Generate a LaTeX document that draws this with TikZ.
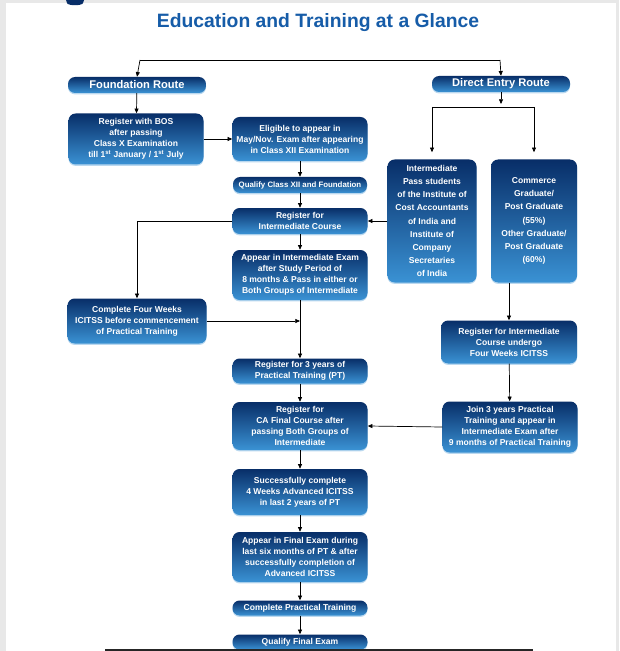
\documentclass[tikz,border=0pt]{standalone}
\usepackage{fontspec}
\setmainfont{Liberation Sans}
\usetikzlibrary{arrows.meta,shadows}
\definecolor{headblue}{RGB}{22,92,168}
\definecolor{boxtop}{RGB}{8,46,104}
\definecolor{boxmid}{RGB}{16,74,146}
\definecolor{boxbot}{RGB}{58,146,212}
\definecolor{edgegray}{RGB}{232,232,232}

\begin{document}
\begin{tikzpicture}[x=0.03cm,y=-0.03cm,
        stage/.style 2 args={
        rectangle, rounded corners=6pt,
        top color=boxtop, middle color=boxmid, bottom color=boxbot,
        text=white, align=center, inner sep=0pt,
        font=\fontsize{7.3}{9.4}\selectfont\bfseries,
        minimum width=#1*0.03cm, minimum height=#2*0.03cm,
        drop shadow={shadow xshift=0pt, shadow yshift=-1.2pt, opacity=0.35, fill=boxbot}},
        tall/.style={font=\fontsize{7.3}{11.2}\selectfont\bfseries},
        route/.style={stage={138}{16}, font=\fontsize{9.5}{10}\selectfont\bfseries},
        link/.style={-{Triangle[length=4pt,width=3.4pt]}, line width=0.6pt},
        ]

        \useasboundingbox (0,0) rectangle (619,651);
        \fill[white] (0,0) rectangle (619,651);
        \fill[edgegray] (0,0) rectangle (6,651);
        \fill[edgegray] (616,0) rectangle (619,651);
        \fill[edgegray] (0,0) rectangle (619,3);
        \fill[boxtop] (66,0) -- (84,0) -- (83,3) .. controls (82,6) and (68,6) .. (67,3) -- cycle;

        \node (title) [font=\fontsize{16.5}{18}\selectfont\bfseries, text=headblue] at (318,23) {Education and Training at a Glance};

        % two routes
        \node (found) [route] at (137,85) {Foundation Route};
        \node (direct) [route] at (501,84) {Direct Entry Route};
        \coordinate (topl) at (140,60);
        \coordinate (topr) at (500,60);
        \draw (topl) -- (topr);
        \draw [link] (topl) -- (found.north);
        \draw [link] (topr) -- (direct.north);

        % foundation side
        \node (bos) [stage={135}{51}] at (136,139) {Register with BOS\\after passing\\Class X Examination\\till 1\textsuperscript{st} January / 1\textsuperscript{st} July};
        \node (elig) [stage={135}{44}] at (300,139) {Eligible to appear in\\May/Nov. Exam after appearing\\in Class XII Examination};
        \node (qualxii) [stage={134}{16}, font=\fontsize{6.7}{8}\selectfont\bfseries] at (300,185) {Qualify Class XII and Foundation};
        \node (reginter) [stage={135}{26}] at (300,221) {Register for\\Intermediate Course};
        \node (appear) [stage={135}{50}] at (300,275) {Appear in Intermediate Exam\\after Study Period of\\8 months \& Pass in either or\\Both Groups of Intermediate};
        \node (four) [stage={139}{45}] at (137,321) {Complete Four Weeks\\ICITSS before commencement\\of Practical Training};
        \node (regpt) [stage={135}{25}] at (300,371) {Register for 3 years of\\Practical Training (PT)};
        \node (cafinal) [stage={135}{48}] at (300,426) {Register for\\CA Final Course after\\passing Both Groups of\\Intermediate};
        \node (advicitss) [stage={135}{46}] at (300,492) {Successfully complete\\4 Weeks Advanced ICITSS\\in last 2 years of PT};
        \node (final) [stage={135}{50}] at (300,557) {Appear in Final Exam during\\last six months of PT \& after\\successfully completion of\\Advanced ICITSS};
        \node (complete) [stage={135}{15}] at (300,608) {Complete Practical Training};
        \node (qualfinal) [stage={135}{15}] at (300,642) {Qualify Final Exam};

        % direct entry side
        \node (interpass) [stage={89}{123}, tall] at (432,221) {Intermediate\\Pass students\\of the Institute of\\Cost Accountants\\of India and\\Institute of\\Company\\Secretaries\\of India};
        \node (commerce) [stage={86}{123}, tall] at (534,221) {Commerce\\Graduate/\\Post Graduate\\(55\%)\\Other Graduate/\\Post Graduate\\(60\%)};
        \node (regdirect) [stage={136}{43}] at (509,342) {Register for Intermediate\\Course undergo\\Four Weeks ICITSS};
        \node (join) [stage={135}{51}] at (510,427) {Join 3 years Practical\\Training and appear in\\Intermediate Exam after\\9 months of Practical Training};

        \draw [link] (found) -- (bos);
        \draw [link] (bos) -- (elig);
        \draw [link] (elig) -- (qualxii);
        \draw [link] (qualxii) -- (reginter);
        \draw [link] (reginter) -- (appear);
        \draw [link] (reginter.west) -| (four.north);
        \draw [link] (appear) -- (regpt);
        \draw [link] (four.east) -- (four.east -| appear.south);
        \draw [link] (regpt) -- (cafinal);
        \draw [link] (cafinal) -- (advicitss);
        \draw [link] (advicitss) -- (final);
        \draw [link] (final) -- (complete);
        \draw [link] (complete) -- (qualfinal);

        \coordinate (split) at (501,104);
        \coordinate (splitl) at (432,107);
        \coordinate (splitr) at (534,107);
        \draw [link] (direct) -- (split);
        \draw (splitl) -- (splitr);
        \draw [link, shorten >=6pt] (splitl) -- (interpass.north);
        \draw [link, shorten >=6pt] (splitr) -- (commerce.north);
        \draw [link] (interpass.west) -- (reginter.east);
        \draw [link] (regdirect.north |- commerce.south) -- (regdirect.north);
        \draw [link] (regdirect) -- (join);
        \draw [link] (join.west) -- (cafinal.east);

        \draw [line width=1.5pt, black!85] (105,650) -- (533,650);
    \end{tikzpicture}
\end{document}
